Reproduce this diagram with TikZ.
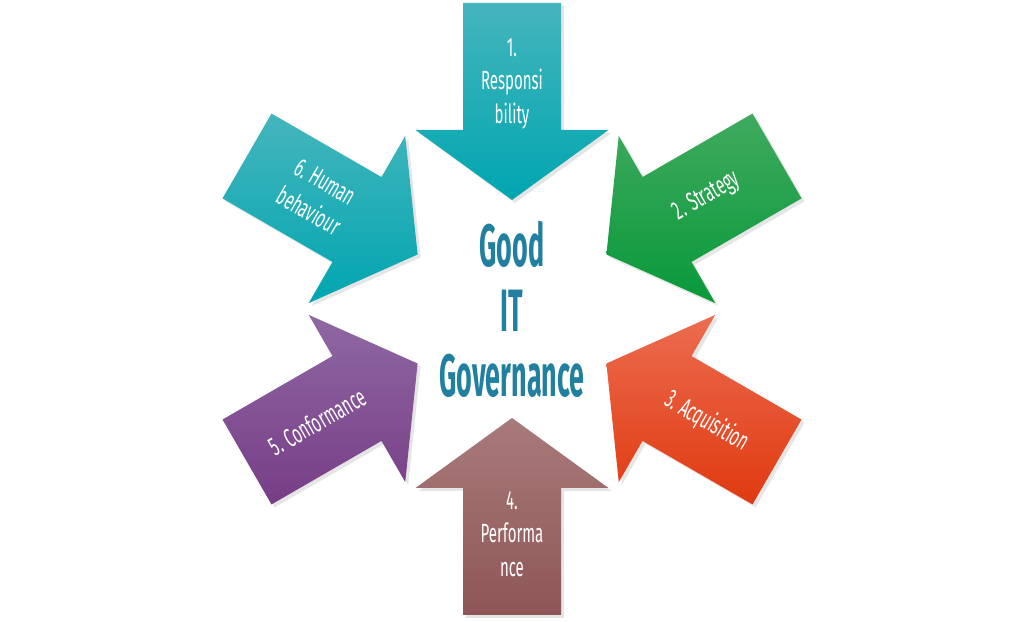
\documentclass[tikz,border=0pt]{standalone}
\usepackage{fontspec}
\setmainfont{Fira Sans}
\newfontfamily\armfont[FakeStretch=0.57]{Fira Sans}
\newfontfamily\govfont[FakeStretch=0.45]{Fira Sans}
\usetikzlibrary{calc,shadows}

\definecolor{tealA}{HTML}{45B5BD}
\definecolor{tealB}{HTML}{00A6B0}
\definecolor{greenA}{HTML}{40AA5E}
\definecolor{greenB}{HTML}{08993A}
\definecolor{redA}{HTML}{EC6C50}
\definecolor{redB}{HTML}{E03A10}
\definecolor{mauveA}{HTML}{A97A7A}
\definecolor{mauveB}{HTML}{8E5656}
\definecolor{purpleA}{HTML}{8F68A3}
\definecolor{purpleB}{HTML}{773D86}
\definecolor{govblue}{HTML}{217F9F}

\tikzset{
  govarrow/.style={drop shadow={opacity=0.2,shadow xshift=0.03,shadow yshift=-0.03}},
  armlabel/.style={text=white,align=center,font=\armfont\fontsize{7.5}{9.6}\selectfont},
}

\begin{document}
\begin{tikzpicture}
				\useasboundingbox[fill=white] (0,0) rectangle (10.24,6.22);
				\coordinate (c) at (5.12,3.13);
				% six arrows pointing to the centre
				\foreach \a/\ct/\cb/\r/\txt [count=\i] in {90/tealA/tealB/0/{1.\\Responsi\\bility}, 30/greenA/greenB/30/{2. Strategy}, -30/redA/redB/-30/{3. Acquisition}, -90/mauveA/mauveB/0/{4.\\Performa\\nce}, 210/purpleA/purpleB/30/{5. Conformance}, 150/tealA/tealB/-30/{6. Human\\behaviour}}{
					\path[govarrow,top color=\ct,bottom color=\cb] ($(c)+(\a:1.09)$) -- ($(c)+(\a:1.79)+(\a+90:0.965)$) -- ($(c)+(\a:1.79)+(\a+90:0.49)$) -- ($(c)+(\a:3.06)+(\a+90:0.49)$) -- ($(c)+(\a:3.06)+(\a-90:0.49)$) -- ($(c)+(\a:1.79)+(\a-90:0.49)$) -- ($(c)+(\a:1.79)+(\a-90:0.965)$) -- cycle;
					\node[armlabel,rotate=\r] (l\i) at ($(c)+(\a:2.25)$) {\txt};
				}
				\node[text=govblue,align=center,font=\govfont\bfseries\fontsize{17}{18.5}\selectfont] (gov) at (c) {Good\\IT\\Governance};
			\end{tikzpicture}
\end{document}
